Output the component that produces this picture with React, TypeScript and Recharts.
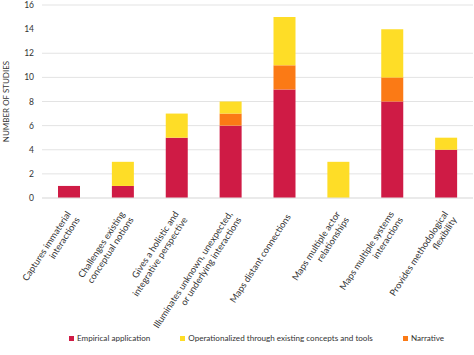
import { Bar, BarChart, CartesianGrid, Legend, XAxis, YAxis } from "recharts";

const categories = [
  ["Captures immaterial", "interactions"],
  ["Challenges existing", "conceptual notions"],
  ["Gives a holistic and", "integrative perspective"],
  ["Illuminates unknown, unexpected,", "or underlying interactions"],
  ["Maps distant connections"],
  ["Maps multiple actor", "relationships"],
  ["Maps multiple systems", "interactions"],
  ["Provides methodological", "flexibility"],
];
const empirical = [1, 1, 5, 6, 9, 0, 8, 4];
const narrative = [0, 0, 0, 1, 2, 0, 2, 0];
const operationalized = [0, 2, 2, 1, 4, 3, 4, 1];
const yTicks = [0, 2, 4, 6, 8, 10, 12, 14, 16];

const series = [
  { key: "empirical", name: "Empirical application", color: "#cf1b45" },
  { key: "narrative", name: "Narrative", color: "#fb7a15" },
  { key: "operationalized", name: "Operationalized through existing concepts and tools", color: "#fedd27" },
];
const legendOrder = ["empirical", "operationalized", "narrative"];

const data = categories.map((lines, i) => ({
  label: lines.join("\n"),
  empirical: empirical[i],
  narrative: narrative[i],
  operationalized: operationalized[i],
}));

const FONT = "Lato, 'Liberation Sans', sans-serif";

function CategoryTick({ x, y, payload }: any) {
  const lines = String(payload.value).split("\n");
  const n = lines.length;
  return (
    <g transform={`translate(${x + 4},${y + 9})`}>
      <text
        transform="rotate(-57)"
        textAnchor="end"
        fontSize={9.2}
        fontFamily={FONT}
        fill="#333"
      >
        {lines.map((line, i) => (
          <tspan key={i} x={0} y={(i - (n - 1) / 2) * 10.5} dy="0.35em">
            {line}
          </tspan>
        ))}
      </text>
    </g>
  );
}

function ChartLegend() {
  return (
    <div
      style={{
        display: "flex",
        justifyContent: "center",
        fontFamily: FONT,
        fontSize: 8.1,
        color: "#333",
        height: 14,
        alignItems: "center",
        paddingLeft: 40,
      }}
    >
      {legendOrder.map((k, i) => {
        const s = series.find((d) => d.key === k)!;
        return (
          <span
            key={k}
            style={{ display: "flex", alignItems: "center", marginLeft: i ? 30 : 0 }}
          >
            <span
              style={{ width: 5, height: 5, background: s.color, display: "inline-block", marginRight: 3 }}
            />
            {s.name}
          </span>
        );
      })}
    </div>
  );
}

export default function App() {
  return (
    <div style={{ position: "absolute", left: 0, top: 0, background: "#fff" }}>
      <BarChart
        width={474}
        height={355}
        data={data}
        margin={{ top: 5, right: 1, bottom: 10, left: 0 }}
        barSize={22}
      >
        <CartesianGrid stroke="#e3e3e3" vertical={false} />
        <XAxis
          dataKey="label"
          interval={0}
          height={133}
          tickLine={false}
          axisLine={{ stroke: "#e3e3e3" }}
          tick={<CategoryTick />}
        />
        <YAxis
          width={42}
          domain={[0, 16]}
          ticks={yTicks}
          tickLine={false}
          axisLine={false}
          tick={{ fontSize: 8.5, fontFamily: FONT, fill: "#333" }}
          label={{
            value: "NUMBER OF STUDIES",
            angle: -90,
            position: "insideLeft",
            offset: 6,
            style: { fontSize: 8, fontFamily: FONT, fill: "#333", textAnchor: "middle" },
          }}
        />
        <Legend verticalAlign="bottom" content={<ChartLegend />} />
        {series.map((s) => (
          <Bar
            key={s.key}
            dataKey={s.key}
            name={s.name}
            stackId="a"
            fill={s.color}
            isAnimationActive={false}
          />
        ))}
      </BarChart>
    </div>
  );
}
